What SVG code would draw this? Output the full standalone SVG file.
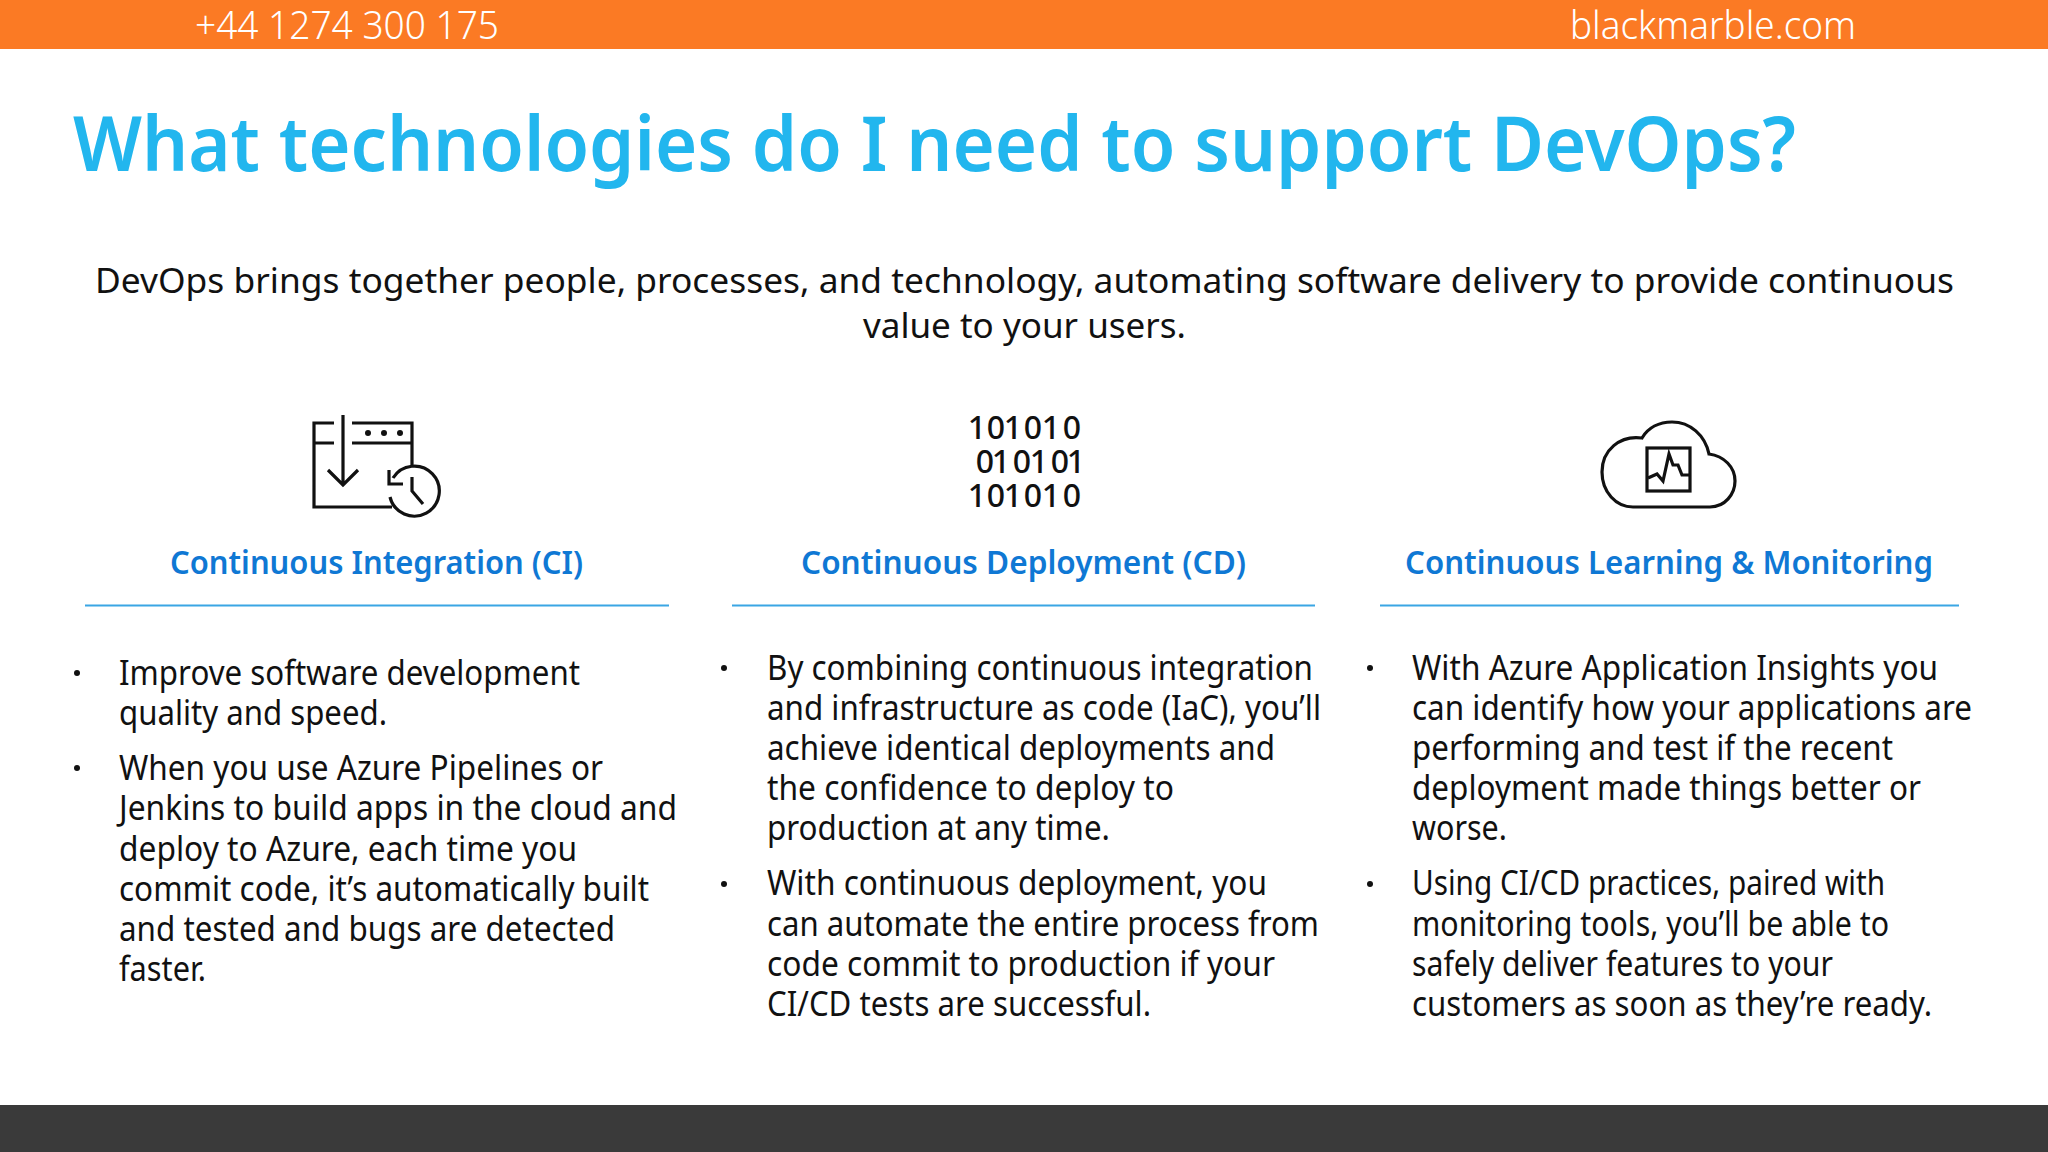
<svg xmlns="http://www.w3.org/2000/svg" width="2048" height="1152" viewBox="0 0 2048 1152">
<style>
text{font-family:"Noto Sans","Open Sans","Liberation Sans",sans-serif;fill:#111}
.top{font-size:38px;font-weight:300;fill:#fff}
.title{font-size:75px;font-weight:600;fill:#22b6ee}
.intro{font-size:35px}
.head{font-size:33px;font-weight:600;fill:#0f78d4}
.b{font-size:34px}
.rule{stroke:#3aa6e4;stroke-width:2;fill:none}
.ic{fill:none;stroke:#111;stroke-width:3.2}
.dig{font-size:32px;font-weight:500;fill:#111}
.dot{fill:#111}
</style>
<rect width="2048" height="1152" fill="#fff"/>
<g id="top-bar"><rect width="2048" height="49" fill="#fb7a24"/>
<text class="top" x="195" y="39" textLength="304" lengthAdjust="spacingAndGlyphs">+44 1274 300 175</text>
<text class="top" x="1570" y="39" textLength="286" lengthAdjust="spacingAndGlyphs">blackmarble.com</text></g>
<rect id="bottom-bar" y="1105" width="2048" height="47" fill="#3a3a3a"/>
<text class="title" x="73" y="171" textLength="1723" lengthAdjust="spacingAndGlyphs">What technologies do I need to support DevOps?</text>
<g id="intro">
<text class="intro" x="95" y="293" textLength="1859" lengthAdjust="spacingAndGlyphs">DevOps brings together people, processes, and technology, automating software delivery to provide continuous</text>
<text class="intro" x="863" y="338" textLength="323" lengthAdjust="spacingAndGlyphs">value to your users.</text></g>
<g id="ci">
<g class="ic"><path d="M334 423H314V507H392M352 423H412V465M314 443H334M352 443H412M343 415V485M328 470L343 485L358 470"/>
<path d="M390 497A25 25 0 1 0 393 478M389 470V484H403M412 477V491L423 504"/></g>
<circle class="dot" cx="368" cy="433" r="3"/><circle class="dot" cx="384" cy="433" r="3"/><circle class="dot" cx="400" cy="433" r="3"/>
<text class="head" x="170" y="574" textLength="413" lengthAdjust="spacingAndGlyphs">Continuous Integration (CI)</text>
<line class="rule" x1="85" y1="605.5" x2="669" y2="605.5"/>
<circle class="dot" cx="77" cy="673" r="3"/><circle class="dot" cx="77" cy="768" r="3"/>
<text class="b" x="119" y="685" textLength="461" lengthAdjust="spacingAndGlyphs">Improve software development</text>
<text class="b" x="119" y="725" textLength="268" lengthAdjust="spacingAndGlyphs">quality and speed.</text>
<text class="b" x="119" y="780" textLength="484" lengthAdjust="spacingAndGlyphs">When you use Azure Pipelines or</text>
<text class="b" x="119" y="820" textLength="558" lengthAdjust="spacingAndGlyphs">Jenkins to build apps in the cloud and</text>
<text class="b" x="119" y="860.500" textLength="458" lengthAdjust="spacingAndGlyphs">deploy to Azure, each time you</text>
<text class="b" x="119" y="900.500" textLength="530" lengthAdjust="spacingAndGlyphs">commit code, it’s automatically built</text>
<text class="b" x="119" y="940.500" textLength="496" lengthAdjust="spacingAndGlyphs">and tested and bugs are detected</text>
<text class="b" x="119" y="980.500" textLength="87" lengthAdjust="spacingAndGlyphs">faster.</text>
</g>
<g id="cd">
<text class="dig" text-anchor="middle" x="977 996 1013 1033 1051 1072" y="439">101010</text>
<text class="dig" text-anchor="middle" x="985 1001 1022 1039 1060 1076" y="473">010101</text>
<text class="dig" text-anchor="middle" x="977 996 1013 1033 1051 1072" y="507">101010</text>
<text class="head" x="801" y="574" textLength="445" lengthAdjust="spacingAndGlyphs">Continuous Deployment (CD)</text>
<line class="rule" x1="732" y1="605.5" x2="1315" y2="605.5"/>
<circle class="dot" cx="724" cy="668" r="3"/><circle class="dot" cx="724" cy="884" r="3"/>
<text class="b" x="767" y="679.500" textLength="546" lengthAdjust="spacingAndGlyphs">By combining continuous integration</text>
<text class="b" x="767" y="719.500" textLength="554" lengthAdjust="spacingAndGlyphs">and infrastructure as code (IaC), you’ll</text>
<text class="b" x="767" y="759.500" textLength="508" lengthAdjust="spacingAndGlyphs">achieve identical deployments and</text>
<text class="b" x="767" y="799.500" textLength="407" lengthAdjust="spacingAndGlyphs">the confidence to deploy to</text>
<text class="b" x="767" y="839.500" textLength="343" lengthAdjust="spacingAndGlyphs">production at any time.</text>
<text class="b" x="767" y="894.500" textLength="500" lengthAdjust="spacingAndGlyphs">With continuous deployment, you</text>
<text class="b" x="767" y="935.500" textLength="552" lengthAdjust="spacingAndGlyphs">can automate the entire process from</text>
<text class="b" x="767" y="975.500" textLength="508" lengthAdjust="spacingAndGlyphs">code commit to production if your</text>
<text class="b" x="767" y="1015.500" textLength="384" lengthAdjust="spacingAndGlyphs">CI/CD tests are successful.</text>
</g>
<g id="clm">
<g class="ic"><path d="M1633 507H1710C1725 507 1735 494 1735 481C1735 467 1724 456 1709 454C1705 435 1690 422 1672 422C1659 422 1648 428 1642 438C1620 435 1602 450 1602 472C1602 492 1616 507 1633 507Z"/>
<rect x="1647" y="448" width="43" height="43"/>
<path d="M1648 478L1657 474L1663 481L1669 454L1673 465H1678L1682 475H1689"/></g>
<text class="head" x="1405" y="574" textLength="528" lengthAdjust="spacingAndGlyphs">Continuous Learning &amp; Monitoring</text>
<line class="rule" x1="1380" y1="605.5" x2="1959" y2="605.5"/>
<circle class="dot" cx="1370" cy="668" r="3"/><circle class="dot" cx="1370" cy="884" r="3"/>
<text class="b" x="1412" y="679.500" textLength="526" lengthAdjust="spacingAndGlyphs">With Azure Application Insights you</text>
<text class="b" x="1412" y="719.500" textLength="560" lengthAdjust="spacingAndGlyphs">can identify how your applications are</text>
<text class="b" x="1412" y="759.500" textLength="481" lengthAdjust="spacingAndGlyphs">performing and test if the recent</text>
<text class="b" x="1412" y="799.500" textLength="509" lengthAdjust="spacingAndGlyphs">deployment made things better or</text>
<text class="b" x="1412" y="839.500" textLength="95" lengthAdjust="spacingAndGlyphs">worse.</text>
<text class="b" x="1412" y="894.500" textLength="473" lengthAdjust="spacingAndGlyphs">Using CI/CD practices, paired with</text>
<text class="b" x="1412" y="935.500" textLength="477" lengthAdjust="spacingAndGlyphs">monitoring tools, you’ll be able to</text>
<text class="b" x="1412" y="975.500" textLength="421" lengthAdjust="spacingAndGlyphs">safely deliver features to your</text>
<text class="b" x="1412" y="1015.500" textLength="520" lengthAdjust="spacingAndGlyphs">customers as soon as they’re ready.</text>
</g>
</svg>
